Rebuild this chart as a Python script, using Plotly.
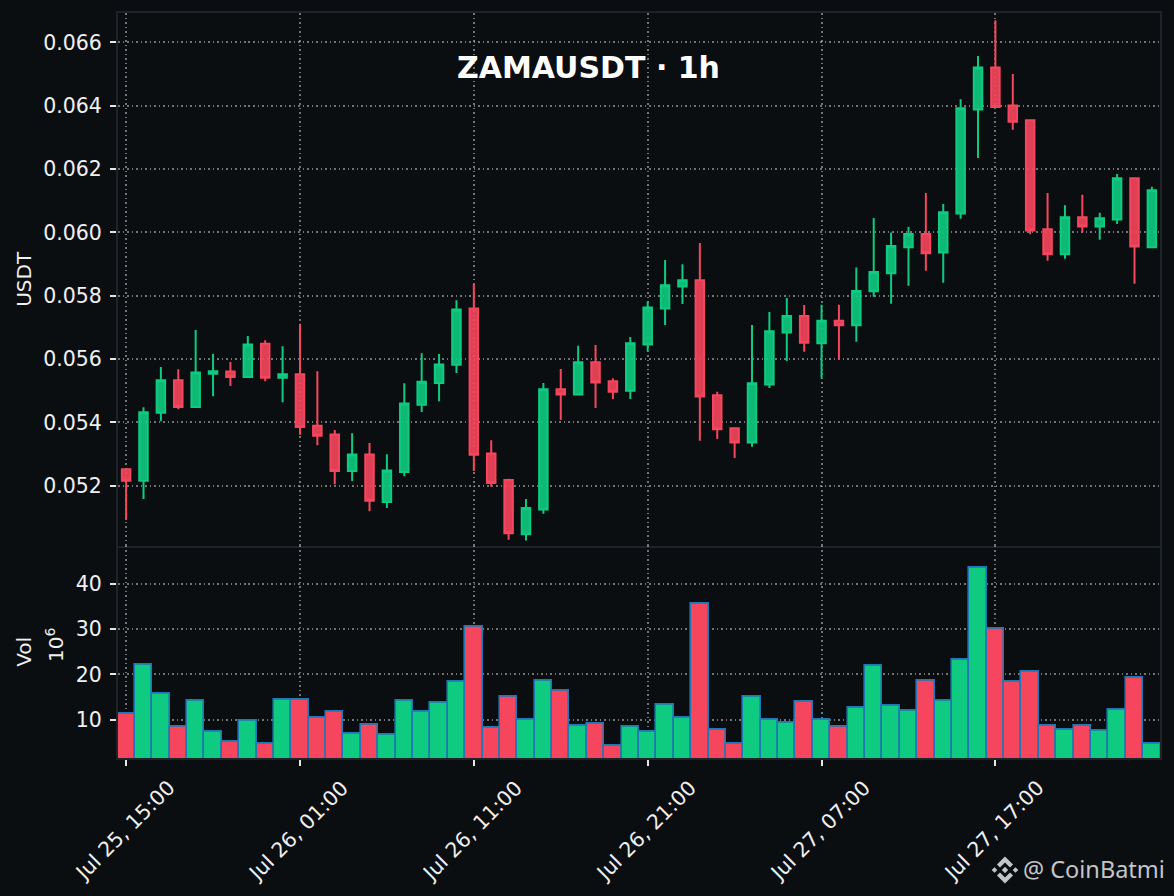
import pandas as pd
import plotly.graph_objects as go
from plotly.subplots import make_subplots

# hourly candles
start_time = "2026-07-25 15:00"
opens = [0.05252, 0.05216, 0.05431, 0.05533, 0.05449, 0.05554, 0.05561, 0.05544, 0.05649, 0.05541,
         0.05552, 0.05390, 0.05362, 0.05247, 0.05299, 0.05149, 0.05244, 0.05456, 0.05525, 0.05582,
         0.05760, 0.05302, 0.05218, 0.05047, 0.05125, 0.05505, 0.05488, 0.05590, 0.05530, 0.05500,
         0.05646, 0.05760, 0.05829, 0.05849, 0.05486, 0.05382, 0.05337, 0.05520, 0.05684, 0.05736,
         0.05650, 0.05721, 0.05707, 0.05814, 0.05871, 0.05953, 0.05995, 0.05937, 0.06060, 0.06388,
         0.06521, 0.06401, 0.06354, 0.06010, 0.05931, 0.06048, 0.06019, 0.06041, 0.06171, 0.05953]
highs = [0.05252, 0.05448, 0.05575, 0.05568, 0.05692, 0.05616, 0.05591, 0.05673, 0.05660, 0.05641,
         0.05712, 0.05562, 0.05376, 0.05366, 0.05335, 0.05300, 0.05524, 0.05619, 0.05616, 0.05786,
         0.05837, 0.05344, 0.05222, 0.05158, 0.05525, 0.05569, 0.05642, 0.05645, 0.05540, 0.05670,
         0.05782, 0.05913, 0.05900, 0.05967, 0.05497, 0.05382, 0.05708, 0.05749, 0.05793, 0.05771,
         0.05772, 0.05772, 0.05889, 0.06046, 0.06000, 0.06018, 0.06125, 0.06090, 0.06421, 0.06557,
         0.06670, 0.06500, 0.06357, 0.06125, 0.06086, 0.06119, 0.06062, 0.06185, 0.06171, 0.06144]
lows = [0.05092, 0.05158, 0.05404, 0.05442, 0.05449, 0.05483, 0.05515, 0.05544, 0.05530, 0.05464,
        0.05361, 0.05328, 0.05205, 0.05215, 0.05120, 0.05130, 0.05230, 0.05433, 0.05467, 0.05556,
        0.05247, 0.05197, 0.05030, 0.05027, 0.05112, 0.05408, 0.05488, 0.05446, 0.05474, 0.05474,
        0.05624, 0.05708, 0.05774, 0.05342, 0.05348, 0.05288, 0.05323, 0.05509, 0.05594, 0.05623,
        0.05539, 0.05598, 0.05655, 0.05797, 0.05775, 0.05832, 0.05879, 0.05841, 0.06043, 0.06235,
        0.06396, 0.06324, 0.05994, 0.05911, 0.05917, 0.06000, 0.05977, 0.06027, 0.05838, 0.05953]
closes = [0.05216, 0.05432, 0.05533, 0.05449, 0.05558, 0.05562, 0.05544, 0.05646, 0.05541, 0.05552,
          0.05386, 0.05358, 0.05247, 0.05299, 0.05153, 0.05248, 0.05460, 0.05529, 0.05583, 0.05757,
          0.05298, 0.05209, 0.05050, 0.05130, 0.05505, 0.05488, 0.05590, 0.05526, 0.05497, 0.05650,
          0.05763, 0.05833, 0.05849, 0.05482, 0.05379, 0.05337, 0.05524, 0.05688, 0.05736, 0.05652,
          0.05721, 0.05707, 0.05815, 0.05875, 0.05957, 0.05995, 0.05934, 0.06064, 0.06392, 0.06521,
          0.06396, 0.06350, 0.06006, 0.05931, 0.06048, 0.06019, 0.06045, 0.06171, 0.05956, 0.06133]
# volume in millions
volumes = [11.4, 22.2, 15.8, 8.5, 14.2, 7.4, 5.2, 9.8, 4.7, 14.5,
           14.5, 10.5, 11.8, 7.0, 9.0, 6.7, 14.3, 11.7, 13.7, 18.3,
           30.6, 8.2, 15.1, 9.9, 18.7, 16.5, 8.6, 9.1, 4.2, 8.4,
           7.3, 13.4, 10.4, 35.7, 7.9, 4.7, 15.0, 10.1, 9.3, 13.9,
           10.1, 8.4, 12.7, 22.0, 13.0, 11.9, 18.5, 14.3, 23.3, 43.6,
           30.1, 18.3, 20.7, 8.6, 7.9, 8.6, 7.5, 12.1, 19.3, 4.7]

price_ticks = [0.052, 0.054, 0.056, 0.058, 0.060, 0.062, 0.064, 0.066]
vol_ticks = [10, 20, 30, 40]
time_ticks = ["2026-07-25 15:00", "2026-07-26 01:00", "2026-07-26 11:00",
              "2026-07-26 21:00", "2026-07-27 07:00", "2026-07-27 17:00"]
time_labels = ["Jul 25, 15:00", "Jul 26, 01:00", "Jul 26, 11:00",
               "Jul 26, 21:00", "Jul 27, 07:00", "Jul 27, 17:00"]

BG = "#0b0e11"
GREEN = "#0ecb81"
RED = "#f6465d"
GRID = "rgba(255,255,255,0.42)"
SPINE = "#1e2329"
WIDTH, HEIGHT = 1174, 896
MARGIN = dict(l=118, r=14, t=13, b=138)
FONT = "DejaVu Sans"

times = pd.date_range(start_time, periods=len(opens), freq="h")
bar_colors = [GREEN if c >= o else RED for o, c in zip(opens, closes)]

fig = make_subplots(rows=2, cols=1, shared_xaxes=True, vertical_spacing=0, row_heights=[0.715, 0.285])

fig.add_trace(go.Candlestick(
    x=times, open=opens, high=highs, low=lows, close=closes,
    increasing=dict(line=dict(color=GREEN, width=2), fillcolor="rgba(14,203,129,0.9)"),
    decreasing=dict(line=dict(color=RED, width=2), fillcolor="rgba(246,70,93,0.9)"),
    showlegend=False,
), row=1, col=1)

fig.add_trace(go.Bar(
    x=times, y=volumes, width=3600000,
    marker=dict(color=bar_colors, line=dict(color="#1f77b4", width=1.6)),
    showlegend=False,
), row=2, col=1)

axis_style = dict(
    showgrid=True, gridcolor=GRID, gridwidth=1.5, griddash="1.8px,2.7px",
    showline=True, linecolor=SPINE, linewidth=2, mirror=True,
    ticks="outside", ticklen=6, tickwidth=2, tickcolor="#e6e6e6",
    zeroline=False,
)
x_range = [times[0] - pd.Timedelta(minutes=28), times[-1] + pd.Timedelta(minutes=28)]

fig.update_xaxes(**axis_style, range=x_range, tickmode="array", tickvals=time_ticks, ticktext=time_labels,
                 showticklabels=False, rangeslider_visible=False)
fig.update_xaxes(ticks="", row=1, col=1)
# one line between the panels, not two
fig.update_xaxes(mirror=False, row=2, col=1)
fig.update_yaxes(**axis_style, tickfont=dict(size=20.5), ticklabelstandoff=4)
fig.update_yaxes(range=[0.05011, 0.06693], tickmode="array", tickvals=price_ticks, tickformat=".3f",
                 title=dict(text="USDT", font=dict(size=20), standoff=6), row=1, col=1)
fig.update_yaxes(range=[1.54, 48.4], tickmode="array", tickvals=vol_ticks,
                 title=dict(text="Vol", font=dict(size=20), standoff=39), row=2, col=1)

plot_w = WIDTH - MARGIN["l"] - MARGIN["r"]
plot_h = HEIGHT - MARGIN["t"] - MARGIN["b"]


# paper coords cover the plot area only, not the whole page
def px_x(x):
    return (x - MARGIN["l"]) / plot_w


def px_y(y):
    return 1 - (y - MARGIN["t"]) / plot_h


def diamond(cx, cy, r):
    pts = [(cx, cy - r), (cx + r, cy), (cx, cy + r), (cx - r, cy)]
    return "M" + " L".join(f"{px_x(a):.5f},{px_y(b):.5f}" for a, b in pts) + " Z"


def chevron(cx, cy, d):
    # d = -1 points up, d = 1 points down
    pts = [(cx, cy + d * 13.5), (cx + 8, cy + d * 5.5), (cx + 5, cy + d * 2.5), (cx, cy + d * 7.5),
           (cx - 5, cy + d * 2.5), (cx - 8, cy + d * 5.5)]
    return "M" + " L".join(f"{px_x(a):.5f},{px_y(b):.5f}" for a, b in pts) + " Z"


# watermark icon
icon_x, icon_y = 1005, 870
icon_path = " ".join([
    diamond(icon_x, icon_y, 3.2),
    diamond(icon_x - 10.5, icon_y, 2.8),
    diamond(icon_x + 10.5, icon_y, 2.8),
    chevron(icon_x, icon_y, -1),
    chevron(icon_x, icon_y, 1),
])
fig.add_shape(type="path", xref="paper", yref="paper", path=icon_path,
              fillcolor="#c4c5c6", line=dict(width=0))

annotations = [
    dict(text="<b>ZAMAUSDT · 1h</b>", xref="paper", yref="paper", x=px_x(588.5), y=px_y(67),
         showarrow=False, xanchor="center", yanchor="middle",
         font=dict(size=30, color="#ffffff", family=FONT)),
    dict(text="@ CoinBatmi", xref="paper", yref="paper", x=px_x(1167), y=px_y(869),
         showarrow=False, xanchor="right", yanchor="middle",
         font=dict(size=23.5, color="#c4c5c6", family="Noto Sans")),
    # scale of the volume axis, further from "Vol" than a <br> would put it
    dict(text="10<sup>6</sup>", xref="paper", yref="paper", x=px_x(55), y=px_y(645),
         showarrow=False, xanchor="center", yanchor="middle", textangle=-90,
         font=dict(size=20, color="#f0f0f0", family=FONT)),
]
# labels sit centred under their tick, which the axis itself can't do at an angle
for tick, label in zip(time_ticks, time_labels):
    annotations.append(dict(text=label, x=tick, xref="x2", y=px_y(773), yref="paper",
                            showarrow=False, xanchor="center", yanchor="top", textangle=-45, xshift=-2,
                            font=dict(size=20.5, color="#f0f0f0", family=FONT)))

fig.update_layout(
    width=WIDTH, height=HEIGHT,
    margin=MARGIN,
    paper_bgcolor=BG, plot_bgcolor=BG,
    font=dict(family=FONT, color="#f0f0f0", size=20),
    bargap=0,
    showlegend=False,
    annotations=annotations,
)

# the page's default body margin would shift everything by 8px
fig.write_html("out.html", config=dict(displayModeBar=False),
               post_script="document.body.style.margin='0';document.body.style.background='#0b0e11';")
